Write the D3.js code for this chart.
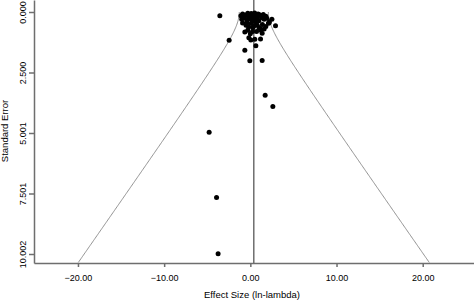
<!DOCTYPE html>
<html>
<head>
<meta charset="utf-8">
<script src="https://cdn.jsdelivr.net/npm/d3@7"></script>
<style>
  body { margin: 0; background: #fff; }
  svg { display: block; font-family: "Liberation Sans", Arial, sans-serif; }
</style>
</head>
<body>
<svg id="chart" width="474" height="302"></svg>
<script>
// study effect sizes (ln-lambda) and standard errors
const effects = [
  -0.9, -0.6, -0.3, -0.1, 0.1, 0.3, 0.5, 0.7, 0.9, 1.2, 1.5, 1.8,
  -1.0, -0.7, -0.4, -0.2, 0.0, 0.2, 0.4, 0.6, 0.8, 1.0, 1.3, 1.6, 1.9, 2.2,
  -0.9, -0.5, -0.2, 0.1, 0.4, 0.7, 1.0, 1.4, 1.8, 2.1,
  0.2, 0.6, 1.0, -0.4, 0.3, 0.8, 1.2, -0.3, 0.0, 1.6, 2.5, -1.1,
  2.92, 2.18, -0.64, 0.26, 0.72, 1.37, 1.1,
  -0.17, 0.06, 0.52, 1.18, 0.64, -0.64, -0.06, 1.37,
  1.72, 2.61, -4.78, -3.92, -3.74, -2.46, -3.54
];
const stdErrors = [
  0.08, 0.12, 0.05, 0.15, 0.06, 0.10, 0.04, 0.12, 0.08, 0.14, 0.10, 0.18,
  0.30, 0.25, 0.35, 0.22, 0.28, 0.38, 0.24, 0.32, 0.27, 0.36, 0.23, 0.30, 0.26, 0.40,
  0.45, 0.55, 0.62, 0.48, 0.58, 0.44, 0.65, 0.52, 0.60, 0.47,
  0.15, 0.20, 0.10, 0.45, 0.65, 0.55, 0.75, 0.75, 0.90, 0.70, 0.30, 0.15,
  0.57, 0.44, 0.83, 0.81, 0.81, 0.88, 0.66,
  1.06, 1.16, 1.13, 1.12, 1.39, 1.58, 2.02, 2.0,
  3.44, 3.91, 4.97, 7.67, 9.99, 1.17, 0.15
];
const xTicks = [-20, -10, 0, 10, 20];
const yTicks = [0, 2.5005, 5.001, 7.5015, 10.002];
const yTickLabels = ["0.000", "2.500", "5.001", "7.501", "10.002"];
const meanEffect = 0.4;
const tau = 0.86;

const svg = d3.select("#chart");
const x = d3.scaleLinear().domain([-25.1, 25.95]).range([34, 474]);
const y = d3.scaleLinear().domain([-0.496, 10.374]).range([0, 263]);
const axisColor = "#6e6e6e";

// pseudo confidence funnel
const seSteps = d3.range(0, 10.3741, 0.05);
const leftLine = seSteps.map(s => [meanEffect - 1.96 * Math.sqrt(s * s + tau * tau), s]);
const rightLine = seSteps.map(s => [meanEffect + 1.96 * Math.sqrt(s * s + tau * tau), s]);
const line = d3.line().x(d => x(d[0])).y(d => y(d[1]));
svg.selectAll("path.funnel")
  .data([leftLine, rightLine])
  .join("path")
  .attr("class", "funnel")
  .attr("d", line)
  .attr("fill", "none")
  .attr("stroke", "#777")
  .attr("stroke-width", 0.8);

// mean effect line
svg.append("line")
  .attr("x1", x(meanEffect)).attr("x2", x(meanEffect))
  .attr("y1", y(-0.496)).attr("y2", y(10.374))
  .attr("stroke", axisColor)
  .attr("stroke-width", 1.5);

// axes
const xAxis = svg.append("g")
  .attr("transform", `translate(0,${y.range()[1]})`)
  .call(d3.axisBottom(x).tickValues(xTicks).tickSize(4).tickSizeOuter(0)
    .tickFormat(d3.format(".2f")));
xAxis.select(".domain").attr("stroke", axisColor).attr("stroke-width", 1.5);
xAxis.selectAll(".tick line").attr("stroke", axisColor).attr("stroke-width", 1.5);
xAxis.selectAll(".tick text")
  .attr("y", 11.5)
  .attr("fill", "#000")
  .style("font-size", "9px");

const yAxis = svg.append("g")
  .attr("transform", `translate(${x.range()[0]},0)`)
  .call(d3.axisLeft(y).tickValues(yTicks).tickSize(5).tickSizeOuter(0)
    .tickFormat((d, i) => yTickLabels[i]));
yAxis.select(".domain").attr("stroke", axisColor).attr("stroke-width", 1.5);
yAxis.selectAll(".tick line").attr("stroke", axisColor).attr("stroke-width", 1.5);
yAxis.selectAll(".tick text")
  .attr("x", 0)
  .attr("y", -8)
  .attr("dy", 0)
  .attr("transform", "rotate(-90)")
  .attr("text-anchor", "middle")
  .attr("fill", "#000")
  .style("font-size", "9px");

// axis titles
svg.append("text")
  .attr("x", 252)
  .attr("y", 298)
  .attr("text-anchor", "middle")
  .attr("fill", "#000")
  .style("font-size", "9.5px")
  .text("Effect Size (ln-lambda)");
svg.append("text")
  .attr("transform", "translate(8,131) rotate(-90)")
  .attr("text-anchor", "middle")
  .attr("fill", "#000")
  .style("font-size", "9.5px")
  .text("Standard Error");

// studies
svg.selectAll("circle.study")
  .data(d3.zip(effects, stdErrors))
  .join("circle")
  .attr("class", "study")
  .attr("cx", d => x(d[0]))
  .attr("cy", d => y(d[1]))
  .attr("r", 2.5)
  .attr("fill", "#000");
</script>
</body>
</html>
